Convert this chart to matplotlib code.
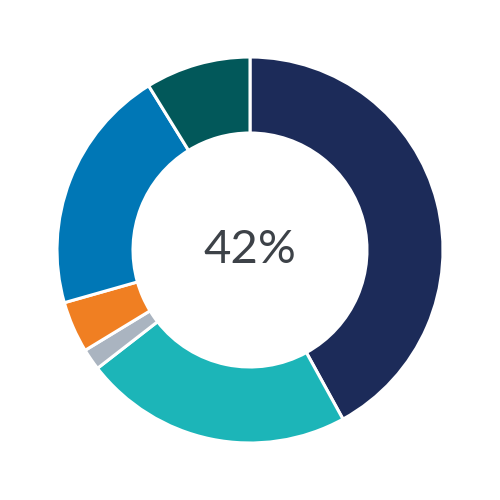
import matplotlib
matplotlib.use("Agg")
import matplotlib.pyplot as plt

labels = ["A", "B", "C", "D", "E", "F"]
values = [42, 22.5, 1.8, 4.3, 20.6, 8.8]
colors = ["#1c2b59", "#1cb5b8", "#aab4c0", "#f07f22", "#0077b6", "#02585a"]
center_label = "42%"

fig = plt.figure(figsize=(5, 5), dpi=100)
ax = fig.add_axes([0, 0, 1, 1])
ax.pie(values, colors=colors, startangle=90, counterclock=False,
       radius=193/250, wedgeprops=dict(width=76/250, edgecolor="white", linewidth=2.2))
ax.text(0, 0, center_label, ha="center", va="center", fontsize=34,
        family="Lato", color="#3d4248")
ax.set_xlim(-1, 1)
ax.set_ylim(-1, 1)
ax.set_aspect("equal")
ax.axis("off")
fig.savefig("out.png", dpi=100, facecolor="white")
